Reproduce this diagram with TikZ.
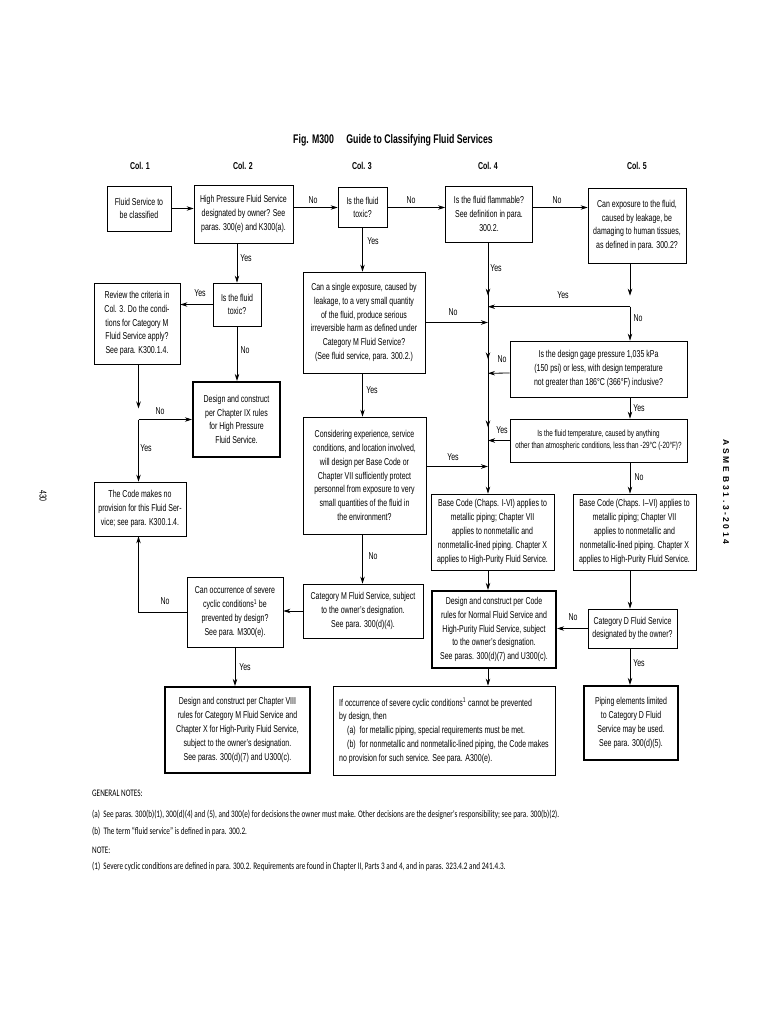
\documentclass[tikz,border=0pt]{standalone}
\usepackage{fontspec}
\setmainfont{Liberation Sans}[FakeStretch=0.7]
\newfontfamily\notefont{Carlito}[FakeStretch=0.72]
\newfontfamily\sidefont{Liberation Sans}[LetterSpace=30]
\usetikzlibrary{arrows.meta}

\tikzset{
	box/.style={draw, line width=0.8pt, align=center, inner sep=0pt, font=\fontsize{10}{13.8}\selectfont},
	thickbox/.style={box, line width=2.2pt},
	lab/.style={inner sep=1pt, font=\fontsize{10}{11}\selectfont},
	colhead/.style={inner sep=1pt, font=\bfseries\fontsize{10}{11}\selectfont},
	note/.style={anchor=west, inner sep=0pt, font=\notefont\fontsize{10}{11}\selectfont},
	arr/.style={-{Stealth[length=7pt,width=4.5pt]}, line width=0.8pt}
}

\begin{document}
\begin{tikzpicture}[x=1pt, y=-1pt]

\useasboundingbox (0,0) rectangle (768,1024);

\node[inner sep=0pt, font=\bfseries\fontsize{12.5}{14}\selectfont] (title) at (393,140) {Fig. M300\quad Guide to Classifying Fluid Services};

\foreach \x/\c in {140/1,243/2,362/3,488/4,637/5} {
	\node[colhead] (col\c) at (\x,166) {Col. \c};
}

% column lines
\coordinate (c1) at (138.5,0);
\coordinate (c3) at (362.5,0);
\coordinate (c4) at (488,0);
\coordinate (c5) at (630,0);

% row 1
\node[box, minimum width=64, minimum height=45] (fs) at (139,208.5) {Fluid Service to\\be classified};
\node[box, minimum width=99, minimum height=58] (hp) at (243.5,214) {High Pressure Fluid Service\\designated by owner? See\\paras. 300(e) and K300(a).};
\node[box, minimum width=49, minimum height=40] (tox) at (362.5,207.5) {Is the fluid\\toxic?};
\node[box, minimum width=87, minimum height=56] (flam) at (489,214) {Is the fluid flammable?\\See definition in para.\\300.2.};
\node[box, minimum width=98, minimum height=75] (tis) at (637,225.5) {Can exposure to the fluid,\\caused by leakage, be\\damaging to human tissues,\\as defined in para. 300.2?};

% col 1 and 2
\node[box, minimum width=48, minimum height=43] (tox2) at (237,304.5) {Is the fluid\\toxic?};
\node[box, minimum width=86, minimum height=81] (rev) at (137,323.5) {Review the criteria in\\Col. 3. Do the condi-\\tions for Category M\\Fluid Service apply?\\See para. K300.1.4.};
\node[thickbox, minimum width=87, minimum height=75] (ch9) at (236.5,419.5) {Design and construct\\per Chapter IX rules\\for High Pressure\\Fluid Service.};
\node[box, minimum width=92, minimum height=54] (nopr) at (140,509) {The Code makes no\\provision for this Fluid Ser-\\vice; see para. K300.1.4.};
\node[box, minimum width=96, minimum height=70] (cyc) at (235,612) {Can occurrence of severe\\cyclic conditions\textsuperscript{1} be\\prevented by design?\\See para. M300(e).};
\node[thickbox, minimum width=145, minimum height=86] (ch8) at (237.5,730) {Design and construct per Chapter VIII\\rules for Category M Fluid Service and\\Chapter X for High-Purity Fluid Service,\\subject to the owner's designation.\\See paras. 300(d)(7) and U300(c).};

% col 3
\node[box, minimum width=122, minimum height=101] (sing) at (364,322.5) {Can a single exposure, caused by\\leakage, to a very small quantity\\of the fluid, produce serious\\irreversible harm as defined under\\Category M Fluid Service?\\(See fluid service, para. 300.2.)};
\node[box, minimum width=123, minimum height=117] (cons) at (364.5,475.5) {Considering experience, service\\conditions, and location involved,\\will design per Base Code or\\Chapter VII sufficiently protect\\personnel from exposure to very\\small quantities of the fluid in\\the environment?};
\node[box, minimum width=120, minimum height=54] (catm) at (363,611) {Category M Fluid Service, subject\\to the owner's designation.\\See para. 300(d)(4).};

% col 4 and 5
\node[box, minimum width=177, minimum height=56] (pres) at (598.5,369) {Is the design gage pressure 1,035 kPa\\(150 psi) or less, with design temperature\\not greater than 186°C (366°F) inclusive?};
\node[box, minimum width=177, minimum height=43, font=\fontsize{9}{12}\selectfont] (temp) at (598.5,440.5) {Is the fluid temperature, caused by anything\\other than atmospheric conditions, less than -29°C (-20°F)?};
\node[box, minimum width=123, minimum height=76] (base4) at (492.5,532) {Base Code (Chaps. I-VI) applies to\\metallic piping; Chapter VII\\applies to nonmetallic and\\nonmetallic-lined piping. Chapter X\\applies to High-Purity Fluid Service.};
\node[box, minimum width=123, minimum height=76] (base5) at (634.5,532) {Base Code (Chaps. I–VI) applies to\\metallic piping; Chapter VII\\applies to nonmetallic and\\nonmetallic-lined piping. Chapter X\\applies to High-Purity Fluid Service.};
\node[thickbox, minimum width=124, minimum height=77] (norm) at (494,629.5) {Design and construct per Code\\rules for Normal Fluid Service and\\High-Purity Fluid Service, subject\\to the owner's designation.\\See paras. 300(d)(7) and U300(c).};
\node[box, minimum width=89, minimum height=39] (catd) at (632.5,628.5) {Category D Fluid Service\\designated by the owner?};
\node[box, minimum width=222, minimum height=89, align=left] (cyc2) at (444,730.5) {If occurrence of severe cyclic conditions\textsuperscript{1} cannot be prevented\\by design, then\\\hspace*{0.8em}(a)\ \ for metallic piping, special requirements must be met.\\\hspace*{0.8em}(b)\ \ for nonmetallic and nonmetallic-lined piping, the Code makes\\no provision for such service. See para. A300(e).};
\node[thickbox, minimum width=94, minimum height=74] (pipe) at (631,723) {Piping elements limited\\to Category D Fluid\\Service may be used.\\See para. 300(d)(5).};

% junctions
\coordinate (j1) at (c1 |- ch9.west);
\coordinate (j5a) at (630,306.7);
\coordinate (j4a) at (c4 |- j5a);
\coordinate (j4c) at (488,373.3);
\coordinate (j4d) at (c4 |- temp.west);

% connectors
\draw[arr] (fs.east) -- (fs.east -| hp.west);
\draw[arr] (hp.east |- tox.west) -- (tox.west);
\draw[arr] (tox.east) -- (tox.east -| flam.west);
\draw[arr] (tox.east -| flam.east) -- (tox.east -| tis.west);

\draw[arr] (tox2.north |- hp.south) -- (tox2.north);
\draw[arr] (tox2.west) -- (tox2.west -| rev.east);
\draw[arr] (tox2.south) -- (tox2.south |- ch9.north);
\draw[arr] (c1 |- rev.south) -- ([yshift=11pt]j1);
\draw[arr] (j1) -- (ch9.west);
\draw[arr] (j1) -- (c1 |- nopr.north);

\draw[arr] (c3 |- tox.south) -- (c3 |- sing.north);
\draw[arr] (c3 |- sing.south) -- (c3 |- cons.north);
\draw[arr] (c3 |- cons.south) -- (c3 |- catm.north);
\draw[arr] (catm.west) -- (catm.west -| cyc.east);
\draw[arr] (cyc.west) -- (c1 |- cyc.west) -- (c1 |- nopr.south);
\draw[arr] (cyc.south) -- (cyc.south |- ch8.north);

\draw[arr] (c4 |- flam.south) -- (c4 |- base4.north);
\draw[arr] (c4 |- flam.south) -- ([yshift=11pt]j4a);
\draw[arr] (j4a) -- ([yshift=14pt]j4c);
\draw[arr] (j4c) -- ([yshift=13pt]j4d);
\draw[arr] (sing.east) -- (sing.east -| c4);
\draw[arr] ([yshift=9pt]cons.east) -- ([yshift=9pt]cons.east -| c4);
\draw[arr] (c4 |- base4.south) -- (c4 |- norm.north);
\draw[arr] (c4 |- norm.south) -- (c4 |- cyc2.north);

\draw[arr] (c5 |- tis.south) -- ([yshift=11pt]j5a);
\draw[arr] (j5a) -- (c5 |- pres.north);
\draw[arr] (j5a) -- (j4a);
\draw[arr] ([yshift=-4pt]pres.west) -- (j4c);
\draw[arr] (c5 |- pres.south) -- (c5 |- temp.north);
\draw[arr] (temp.west) -- (j4d);
\draw[arr] (c5 |- temp.south) -- (c5 |- base5.north);
\draw[arr] (c5 |- base5.south) -- (c5 |- catd.north);
\draw[arr] (catd.west) -- (catd.west -| norm.east);
\draw[arr] (c5 |- catd.south) -- (c5 |- pipe.north);

% labels
\node[lab] (n1) at (313,200) {No};
\node[lab] (n2) at (411,200) {No};
\node[lab] (n3) at (557,200) {No};
\node[lab] (y1) at (246,258) {Yes};
\node[lab] (y2) at (373,241) {Yes};
\node[lab] (y3) at (200,293) {Yes};
\node[lab] (n4) at (245,350) {No};
\node[lab] (n5) at (160,411) {No};
\node[lab] (y4) at (146,448) {Yes};
\node[lab] (y5) at (372,390) {Yes};
\node[lab] (n6) at (453,312) {No};
\node[lab] (y6) at (496,268) {Yes};
\node[lab] (y7) at (563,295) {Yes};
\node[lab] (n7) at (638,318) {No};
\node[lab] (n8) at (502,359) {No};
\node[lab] (y8) at (639,408) {Yes};
\node[lab] (y9) at (502,430) {Yes};
\node[lab] (y10) at (453,457) {Yes};
\node[lab] (n9) at (639,477) {No};
\node[lab] (n10) at (373,556) {No};
\node[lab] (n11) at (165,601) {No};
\node[lab] (y11) at (245,667) {Yes};
\node[lab] (n12) at (573,617) {No};
\node[lab] (y12) at (639,663) {Yes};

% notes
\node[note] (gn) at (92,793) {GENERAL NOTES:};
\node[note] (gna) at (92,815) {(a)\ \ See paras. 300(b)(1), 300(d)(4) and (5), and 300(e) for decisions the owner must make. Other decisions are the designer's responsibility; see para. 300(b)(2).};
\node[note] (gnb) at (92,832) {(b)\ \ The term “fluid service” is defined in para. 300.2.};
\node[note] (nt) at (92,850) {NOTE:};
\node[note] (nt1) at (92,867) {(1)\ \ Severe cyclic conditions are defined in para. 300.2. Requirements are found in Chapter II, Parts 3 and 4, and in paras. 323.4.2 and 241.4.3.};

\node[rotate=-90, font=\sidefont\bfseries\fontsize{8.5}{10}\selectfont] (asme) at (726,492) {ASME B31.3-2014};
\node[rotate=-90, font=\fontsize{10}{12}\selectfont] (page) at (43,496) {430};

\end{tikzpicture}
\end{document}
